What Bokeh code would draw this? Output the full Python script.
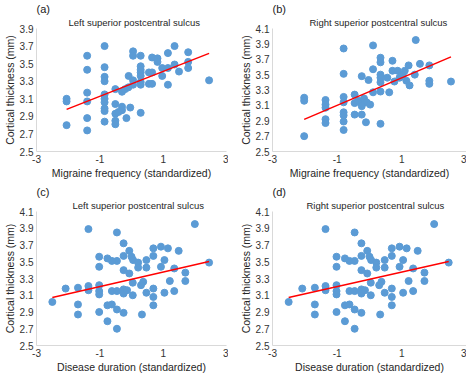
from bokeh.plotting import figure
from bokeh.layouts import column, row
from bokeh.models import Range1d, FixedTicker, Title
from bokeh.embed import file_html
from bokeh.resources import INLINE

# ---- data ----
x_ticks = [-3, -1, 1, 3]
y_ticks_a = [2.5, 2.7, 2.9, 3.1, 3.3, 3.5, 3.7, 3.9]
y_ticks_bcd = [2.5, 2.7, 2.9, 3.1, 3.3, 3.5, 3.7, 3.9, 4.1]

freq_left_x = [-2.05, -2.05, -2.05,
               -1.40, -1.40, -1.40, -1.40, -1.40, -1.40,
               -0.85, -0.85, -0.85, -0.85, -0.85, -0.85, -0.85, -0.85, -0.85, -0.85,
               -0.51, -0.51, -0.51, -0.51, -0.51,
               -0.30, -0.30, -0.41, -0.16, -0.04, -0.30, -0.20, -0.10, -0.09,
               0.05, 0.05, 0.05, 0.05,
               0.29, 0.29, 0.29, 0.29, 0.29, 0.29, 0.29, 0.29,
               0.55, 0.65, 0.55, 0.65, 0.65, 0.82, 0.82, 0.97, 0.97,
               1.15, 1.15, 1.15, 1.36, 1.36, 1.50, 1.79, 1.79, 1.79, 2.45]
freq_left_y = [3.10, 3.07, 2.80,
               3.59, 3.43, 3.17, 3.07, 2.88, 2.74,
               3.70, 3.46, 3.35, 3.30, 3.15, 3.10, 3.06, 2.99, 2.96, 2.84,
               3.21, 3.04, 2.93, 2.85, 2.81,
               3.01, 2.97, 2.95, 2.88, 3.00, 3.18, 3.21, 3.23, 3.36,
               3.64, 3.59, 3.31, 3.26,
               3.59, 3.47, 3.43, 3.40, 3.36, 3.29, 3.26, 2.94,
               3.40, 3.40, 3.27, 3.27, 3.57, 3.56, 3.52, 3.45, 3.36,
               3.62, 3.45, 3.26, 3.70, 3.49, 3.41, 3.63, 3.52, 3.45, 3.31]

freq_right_x = [-2.02, -2.02, -2.02,
                -1.36, -1.36, -1.36, -1.36, -1.36,
                -0.80, -0.80, -0.80, -0.80, -0.80, -0.80, -0.80, -0.80,
                -0.46, -0.46, -0.46,
                -0.24, -0.35, -0.24, -0.17, -0.09, 0.02, -0.24, -0.24, -0.11, -0.03,
                0.11, 0.11, 0.11,
                0.34, 0.34, 0.34, 0.34, 0.34, 0.34, 0.34,
                0.55, 0.61, 0.71, 0.71, 0.87, 0.77, 0.93, 1.03, 1.09, 1.14, 1.21, 1.24,
                1.43, 1.40, 1.56, 1.85, 1.85, 1.85, 2.52]
freq_right_y = [3.20, 3.16, 2.70,
                3.17, 3.11, 3.07, 2.92, 2.87,
                3.84, 3.51, 3.21, 3.14, 3.01, 2.97, 2.89, 2.78,
                3.24, 3.13, 2.98,
                3.48, 3.16, 3.13, 3.19, 3.14, 3.11, 3.09, 2.98, 2.88, 3.43,
                3.88, 3.57, 3.27,
                3.72, 3.66, 3.50, 3.46, 3.40, 3.28, 2.86,
                3.46, 3.27, 3.68, 3.55, 3.55, 3.41, 3.46, 3.50, 3.55, 3.42, 3.62, 3.36,
                3.95, 3.50, 3.64, 3.62, 3.42, 3.38, 3.41]

duration_x = [-1.36, -0.46, 2.00, -0.25, -0.07, 0.00, 0.05, -0.25, 0.21, 0.21,
              0.47, 0.47, 0.69, 0.69, 0.93, 1.15, 1.49, 1.04, 0.93, 1.35,
              1.70, 1.70, 2.45, 1.21, 1.35, 1.04, 0.69, 0.69, 0.69, 0.47,
              0.37, 0.30, 0.04, 0.04, 0.33, -0.07, -0.25, -0.46, -0.62, -0.76,
              -1.02, -1.02, -1.02, -1.02, -1.02, -1.36, -1.36, -1.69, -2.08, -1.69,
              -1.69, -2.50, -1.02, -0.76, -0.62, -0.46, -0.25, -0.76, -0.46, -0.62,
              -0.46, -0.25, -0.25, -0.14]
duration_y = [3.89, 3.85, 3.95, 3.72, 3.63, 3.56, 3.52, 3.57, 3.49, 3.43,
              3.52, 3.43, 3.66, 3.57, 3.68, 3.66, 3.63, 3.52, 3.44, 3.42,
              3.37, 3.27, 3.49, 3.27, 3.15, 3.13, 3.18, 3.08, 2.98, 3.13,
              3.26, 3.22, 3.25, 3.10, 2.87, 3.36, 3.40, 3.51, 3.51, 3.54,
              3.56, 3.44, 3.22, 3.15, 3.11, 3.21, 3.16, 3.19, 3.18, 2.99,
              2.87, 3.02, 2.90, 2.98, 2.99, 2.93, 2.89, 2.79, 2.70, 3.15,
              3.15, 3.17, 3.12, 3.16]

# trendlines: slope, intercept
trend_a = [0.1416, 3.270]
trend_b = [0.179, 3.280]
trend_c = [0.087, 3.290]
trend_d = [0.087, 3.290]

panel_labels = ["(a)", "(b)", "(c)", "(d)"]
panel_titles = ["Left superior postcentral sulcus", "Right superior postcentral sulcus",
                "Left superior postcentral sulcus", "Right superior postcentral sulcus"]
x_titles = ["Migraine frequency (standardized)", "Migraine frequency (standardized)",
            "Disease duration (standardized)", "Disease duration (standardized)"]
y_title = "Cortical thickness (mm)"

FONT = "Liberation Sans"
DOT = "#5B9BD5"
AXIS = "#D9D9D9"


def make(xs, ys, trend, yticks, label, title, xtitle, w, h, left_pad, right_pad, top_pad,
         label_off, title_off):
    p = figure(width=w, height=h, output_backend="svg", toolbar_location=None,
               x_range=Range1d(-3, 3), y_range=Range1d(yticks[0], yticks[-1]),
               min_border_left=left_pad, min_border_right=right_pad,
               min_border_top=top_pad, min_border_bottom=0)
    p.title = Title(text=label, align="left", text_font=FONT, text_font_size="11px",
                    text_font_style="normal", text_color="#1a1a1a", offset=label_off, standoff=0)
    p.add_layout(Title(text=title, align="left", text_font=FONT, text_font_size="9.5px",
                       text_font_style="normal", text_color="#262626", offset=title_off,
                       standoff=1), "above")
    p.xgrid.visible = False
    p.ygrid.visible = False
    p.outline_line_color = None
    for ax in (p.xaxis[0], p.yaxis[0]):
        ax.axis_line_color = AXIS
        ax.major_tick_line_color = None
        ax.minor_tick_line_color = None
        ax.major_tick_out = 0
        ax.major_tick_in = 0
        ax.minor_tick_out = 0
        ax.minor_tick_in = 0
        ax.major_label_text_font = FONT
        ax.major_label_text_font_size = "10px"
        ax.major_label_text_color = "#333333"
        ax.axis_label_text_font = FONT
        ax.axis_label_text_font_size = "10.5px"
        ax.axis_label_text_font_style = "normal"
        ax.axis_label_text_color = "#262626"
        ax.major_label_standoff = 3
        ax.axis_label_standoff = 1
    p.xaxis.ticker = FixedTicker(ticks=x_ticks)
    p.xaxis.major_label_overrides = {t: str(t) for t in x_ticks}
    p.yaxis.ticker = FixedTicker(ticks=yticks)
    p.yaxis.major_label_overrides = {t: f"{t:.1f}" for t in yticks}
    p.xaxis.axis_label = xtitle
    p.yaxis.axis_label = y_title
    p.scatter(xs, ys, size=7, color=DOT, line_color=DOT)
    x0, x1 = min(xs), max(xs)
    p.line([x0, x1], [trend[1] + trend[0] * x0, trend[1] + trend[0] * x1],
           line_color="#FF0000", line_width=1.5)
    return p


pa = make(freq_left_x, freq_left_y, trend_a, y_ticks_a, panel_labels[0], panel_titles[0],
          x_titles[0], 228, 181, 0, 2, 0, 0, 32)
pb = make(freq_right_x, freq_right_y, trend_b, y_ticks_bcd, panel_labels[1], panel_titles[1],
          x_titles[1], 238, 181, 44, 0, 0, 0, 37)
pc = make(duration_x, duration_y, trend_c, y_ticks_bcd, panel_labels[2], panel_titles[2],
          x_titles[2], 228, 194, 0, 2, 30, 0, 36)
pd_ = make(duration_x, duration_y, trend_d, y_ticks_bcd, panel_labels[3], panel_titles[3],
           x_titles[3], 238, 194, 44, 0, 30, 0, 34)

layout = column(row(pa, pb), row(pc, pd_))
open("out.html", "w").write(file_html(layout, INLINE))
